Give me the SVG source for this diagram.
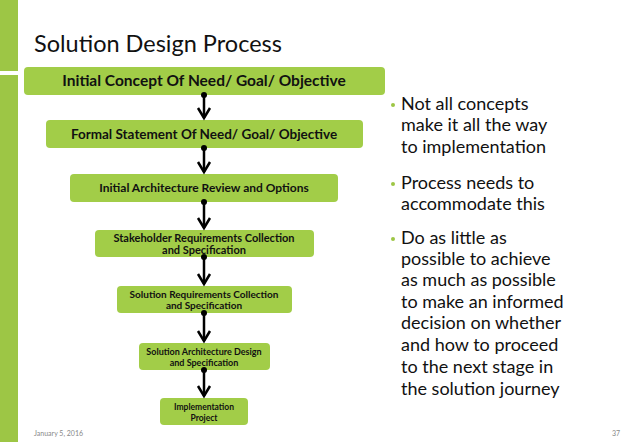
<svg xmlns="http://www.w3.org/2000/svg" width="638" height="442" viewBox="0 0 638 442">
<style>
.box{fill:#a2cd48}
.bt{font-family:Lato,"Open Sans","Liberation Sans",sans-serif;font-weight:bold;fill:#111;text-anchor:middle}
.bl{font-family:Lato,"Open Sans","Liberation Sans",sans-serif;font-size:18px;fill:#111}
.c line{stroke:#000;stroke-width:2.5}
.c polyline{stroke:#000;stroke-width:2.5;fill:none}
.c circle{fill:#000}
</style>
<rect width="638" height="442" fill="#fff"/>
<rect x="0" y="0" width="18" height="71" fill="#9dc645"/>
<rect x="0" y="75" width="18" height="367" fill="#9dc645"/>
<text x="34" y="52" font-family="Lato,'Open Sans',sans-serif" font-size="23.5" fill="#111">Solution Design Process</text>
<g id="n1"><rect class="box" x="24" y="67" width="361" height="28" rx="4"/><text class="bt" x="204" y="86" font-size="15.5">Initial Concept Of Need/ Goal/ Objective</text></g>
<g id="n2"><rect class="box" x="46" y="120" width="317" height="28" rx="4"/><text class="bt" x="204" y="139" font-size="13.5">Formal Statement Of Need/ Goal/ Objective</text></g>
<g id="n3"><rect class="box" x="70" y="174" width="268" height="28" rx="4"/><text class="bt" x="204" y="192" font-size="12">Initial Architecture Review and Options</text></g>
<g id="n4"><rect class="box" x="95" y="230" width="219" height="27" rx="4"/><text class="bt" x="204" y="242" font-size="11">Stakeholder Requirements Collection</text><text class="bt" x="204" y="254" font-size="11">and Specification</text></g>
<g id="n5"><rect class="box" x="117" y="286" width="175" height="27" rx="4"/><text class="bt" x="204" y="298" font-size="10">Solution Requirements Collection</text><text class="bt" x="204" y="309" font-size="10">and Specification</text></g>
<g id="n6"><rect class="box" x="139" y="343" width="131" height="27" rx="4"/><text class="bt" x="204" y="355" font-size="9">Solution Architecture Design</text><text class="bt" x="204" y="366" font-size="9">and Specification</text></g>
<g id="n7"><rect class="box" x="160" y="398" width="88" height="27" rx="4"/><text class="bt" x="204" y="410" font-size="8.5">Implementation</text><text class="bt" x="204" y="421" font-size="8.5">Project</text></g>
<g class="c" id="connectors">
<circle cx="204" cy="95" r="3"/><line x1="204" y1="95" x2="204" y2="118"/><polyline points="198,108 204,118 210,108"/>
<circle cx="204" cy="148" r="3"/><line x1="204" y1="148" x2="204" y2="172"/><polyline points="198,162 204,172 210,162"/>
<circle cx="204" cy="202" r="3"/><line x1="204" y1="202" x2="204" y2="228"/><polyline points="198,218 204,228 210,218"/>
<circle cx="204" cy="257" r="3"/><line x1="204" y1="257" x2="204" y2="284"/><polyline points="198,274 204,284 210,274"/>
<circle cx="204" cy="313" r="3"/><line x1="204" y1="313" x2="204" y2="341"/><polyline points="198,331 204,341 210,331"/>
<circle cx="204" cy="370" r="3"/><line x1="204" y1="370" x2="204" y2="396"/><polyline points="198,386 204,396 210,386"/>
</g>
<g fill="#9dc645"><circle cx="393" cy="105" r="2"/><circle cx="393" cy="184" r="2"/><circle cx="393" cy="239" r="2"/></g>
<text class="bl"><tspan x="401" y="110">Not all concepts</tspan><tspan x="401" y="131">make it all the way</tspan><tspan x="401" y="153">to implementation</tspan></text>
<text class="bl"><tspan x="401" y="189">Process needs to</tspan><tspan x="401" y="210">accommodate this</tspan></text>
<text class="bl"><tspan x="401" y="244">Do as little as</tspan><tspan x="401" y="265">possible to achieve</tspan><tspan x="401" y="286">as much as possible</tspan><tspan x="401" y="308">to make an informed</tspan><tspan x="401" y="329">decision on whether</tspan><tspan x="401" y="351">and how to proceed</tspan><tspan x="401" y="373">to the next stage in</tspan><tspan x="401" y="395">the solution journey</tspan></text>
<text x="34" y="436" font-family="Lato,sans-serif" font-size="7" fill="#888">January 5, 2016</text>
<text x="612" y="436" font-family="Lato,sans-serif" font-size="7" fill="#888">37</text>
</svg>
